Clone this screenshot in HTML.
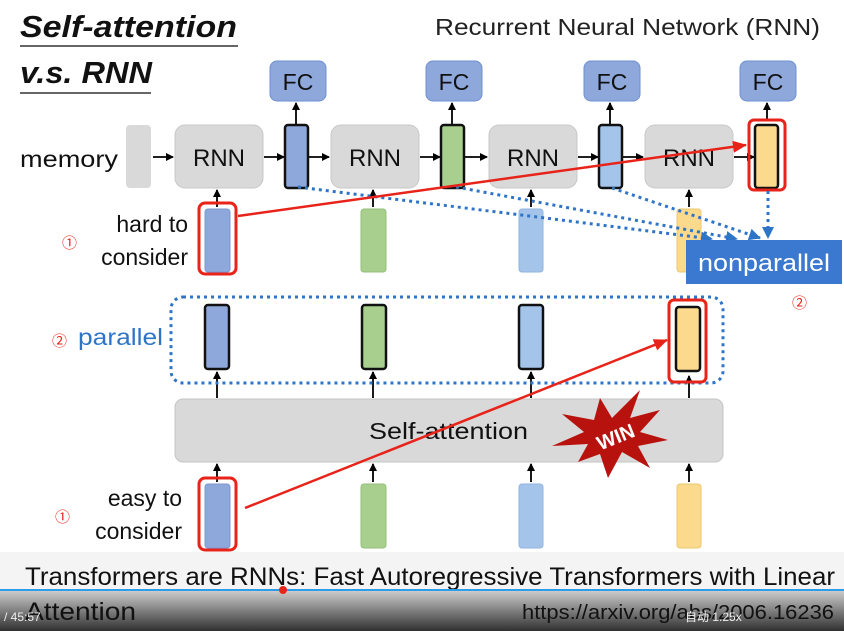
<!DOCTYPE html>
<html><head><meta charset="utf-8"><style>
body{margin:0;width:844px;height:631px;overflow:hidden;background:#fff;}
svg{display:block}
text{font-family:"Liberation Sans","Noto Sans CJK SC",sans-serif;}
</style></head><body>
<svg width="844" height="631" viewBox="0 0 844 631" xmlns="http://www.w3.org/2000/svg">
<defs>
<marker id="ab" markerWidth="8" markerHeight="8" refX="7" refY="4" orient="auto" markerUnits="userSpaceOnUse"><path d="M0,0 L8,4 L0,8 z" fill="#000"/></marker>
<marker id="ar" markerWidth="14" markerHeight="12" refX="13" refY="6" orient="auto" markerUnits="userSpaceOnUse"><path d="M0,0 L14,6 L0,12 z" fill="#e8231a"/></marker>
<marker id="ad" markerWidth="12" markerHeight="12" refX="11" refY="6" orient="auto" markerUnits="userSpaceOnUse"><path d="M0,0 L12,6 L0,12 z" fill="#2e75c8"/></marker>
<linearGradient id="bot" x1="0" y1="0" x2="0" y2="1"><stop offset="0" stop-color="#d0d0d0"/><stop offset="1" stop-color="#303030"/></linearGradient>
</defs>

<text x="20" y="37" font-size="31" font-weight="bold" font-style="italic" fill="#111" textLength="217" lengthAdjust="spacingAndGlyphs">Self-attention</text>
<line x1="20" y1="46" x2="238" y2="46" stroke="#333" stroke-width="1.5"/>
<text x="20" y="83" font-size="31" font-weight="bold" font-style="italic" fill="#111" textLength="132" lengthAdjust="spacingAndGlyphs">v.s. RNN</text>
<line x1="20" y1="93" x2="151" y2="93" stroke="#333" stroke-width="1.5"/>
<text x="435" y="35" font-size="23" fill="#222" textLength="385" lengthAdjust="spacingAndGlyphs">Recurrent Neural Network (RNN)</text>

<g fill="#8ea8dc" stroke="#6f8fcf" stroke-width="1">
<rect x="270" y="61" width="56" height="40" rx="7"/>
<rect x="426" y="61" width="56" height="40" rx="7"/>
<rect x="584" y="61" width="56" height="40" rx="7"/>
<rect x="740" y="61" width="56" height="40" rx="7"/>
</g>
<g font-size="23" fill="#111" text-anchor="middle">
<text x="298" y="90">FC</text><text x="454" y="90">FC</text><text x="612" y="90">FC</text><text x="768" y="90">FC</text>
</g>

<text x="20" y="167" font-size="23" fill="#111" textLength="98" lengthAdjust="spacingAndGlyphs">memory</text>
<rect x="126" y="125" width="25" height="63" rx="4" fill="#d9d9d9"/>

<g fill="#d9d9d9" stroke="#c8c8c8">
<rect x="175" y="125" width="88" height="63" rx="10"/>
<rect x="331" y="125" width="88" height="63" rx="10"/>
<rect x="489" y="125" width="88" height="63" rx="10"/>
<rect x="645" y="125" width="88" height="63" rx="10"/>
</g>
<g font-size="24" fill="#111" text-anchor="middle">
<text x="219" y="166">RNN</text><text x="375" y="166">RNN</text><text x="533" y="166">RNN</text><text x="689" y="166">RNN</text>
</g>

<g stroke="#000" stroke-width="1.8" marker-end="url(#ab)">
<line x1="153" y1="157" x2="173" y2="157"/>
<line x1="264" y1="157" x2="284" y2="157"/>
<line x1="308" y1="157" x2="329" y2="157"/>
<line x1="420" y1="157" x2="440" y2="157"/>
<line x1="465" y1="157" x2="487" y2="157"/>
<line x1="578" y1="157" x2="598" y2="157"/>
<line x1="622" y1="157" x2="643" y2="157"/>
<line x1="734" y1="157" x2="754" y2="157"/>
<line x1="296" y1="124" x2="296" y2="103"/>
<line x1="452" y1="124" x2="452" y2="103"/>
<line x1="610" y1="124" x2="610" y2="103"/>
<line x1="767" y1="120" x2="767" y2="103"/>
<line x1="217" y1="207" x2="217" y2="190"/>
<line x1="373" y1="207" x2="373" y2="190"/>
<line x1="531" y1="207" x2="531" y2="190"/>
<line x1="689" y1="207" x2="689" y2="190"/>
<line x1="217" y1="482" x2="217" y2="464"/>
<line x1="373" y1="482" x2="373" y2="464"/>
<line x1="531" y1="482" x2="531" y2="464"/>
<line x1="689" y1="482" x2="689" y2="464"/>
<line x1="217" y1="398" x2="217" y2="372"/>
<line x1="373" y1="398" x2="373" y2="372"/>
<line x1="531" y1="398" x2="531" y2="372"/>
<line x1="689" y1="398" x2="689" y2="376"/>
</g>

<rect x="285" y="125" width="23" height="63" rx="3" fill="#8ea8dc" stroke="#111" stroke-width="2.5"/>
<rect x="441" y="125" width="23" height="63" rx="3" fill="#a9cf8f" stroke="#111" stroke-width="2.5"/>
<rect x="599" y="125" width="23" height="63" rx="3" fill="#a5c4ea" stroke="#111" stroke-width="2.5"/>
<rect x="755" y="125" width="23" height="63" rx="3" fill="#fbd98d" stroke="#111" stroke-width="2.5"/>
<rect x="749" y="120" width="36" height="70" rx="5" fill="none" stroke="#e8231a" stroke-width="3"/>

<rect x="205" y="209" width="25" height="63" rx="3" fill="#8ea8dc" stroke="#7d97cf"/>
<rect x="199" y="203" width="37" height="71" rx="6" fill="none" stroke="#e8231a" stroke-width="3"/>
<rect x="361" y="209" width="25" height="63" rx="3" fill="#a9cf8f" stroke="#93bf79"/>
<rect x="519" y="209" width="24" height="63" rx="3" fill="#a5c4ea" stroke="#8fb3e0"/>
<rect x="677" y="209" width="24" height="63" rx="3" fill="#fbd98d" stroke="#eec770"/>

<text x="62" y="248" font-size="15" fill="#e8231a">①</text>
<text x="188" y="232" font-size="23" fill="#111" text-anchor="end">hard to</text>
<text x="188" y="265" font-size="23" fill="#111" text-anchor="end">consider</text>

<g stroke="#2e75c8" stroke-width="3" stroke-dasharray="3,4" fill="none" marker-end="url(#ad)">
<line x1="298" y1="187" x2="712" y2="239"/>
<line x1="456" y1="187" x2="737" y2="239"/>
<line x1="612" y1="188" x2="760" y2="238"/>
<line x1="768" y1="191" x2="768" y2="238"/>
</g>
<rect x="686" y="240" width="156" height="44" fill="#3b78d0"/>
<text x="698" y="271" font-size="24" fill="#fff" textLength="132" lengthAdjust="spacingAndGlyphs">nonparallel</text>
<text x="792" y="308" font-size="15" fill="#e8231a">②</text>

<text x="52" y="346" font-size="15" fill="#e8231a">②</text>
<text x="78" y="345" font-size="23" fill="#2e75c8" textLength="85" lengthAdjust="spacingAndGlyphs">parallel</text>
<rect x="171" y="297" width="552" height="86" rx="12" fill="none" stroke="#2e75c8" stroke-width="3" stroke-dasharray="3,4"/>
<rect x="205" y="305" width="24" height="64" rx="3" fill="#8ea8dc" stroke="#111" stroke-width="2.5"/>
<rect x="362" y="305" width="24" height="64" rx="3" fill="#a9cf8f" stroke="#111" stroke-width="2.5"/>
<rect x="519" y="305" width="24" height="64" rx="3" fill="#a5c4ea" stroke="#111" stroke-width="2.5"/>
<rect x="676" y="307" width="24" height="64" rx="3" fill="#fbd98d" stroke="#111" stroke-width="2.5"/>
<rect x="669" y="300" width="37" height="82" rx="5" fill="none" stroke="#e8231a" stroke-width="3"/>

<rect x="175" y="399" width="548" height="63" rx="8" fill="#d9d9d9" stroke="#c4c4c4"/>
<text x="369" y="439" font-size="23" fill="#111" textLength="159" lengthAdjust="spacingAndGlyphs">Self-attention</text>
<polygon points="600,398 612,418 640,390 630,418 660,410 640,432 668,440 638,446 650,468 622,452 608,478 600,454 578,462 588,444 552,446 584,432 562,414 594,420" fill="#b8120e"/>
<text x="598" y="451" font-size="20" font-weight="bold" fill="#fff" transform="rotate(-22 598 445)">WIN</text>

<rect x="205" y="484" width="25" height="64" rx="3" fill="#8ea8dc" stroke="#7d97cf"/>
<rect x="199" y="478" width="37" height="72" rx="6" fill="none" stroke="#e8231a" stroke-width="3"/>
<rect x="361" y="484" width="25" height="64" rx="3" fill="#a9cf8f" stroke="#93bf79"/>
<rect x="519" y="484" width="24" height="64" rx="3" fill="#a5c4ea" stroke="#8fb3e0"/>
<rect x="677" y="484" width="24" height="64" rx="3" fill="#fbd98d" stroke="#eec770"/>
<text x="55" y="522" font-size="15" fill="#e8231a">①</text>
<text x="182" y="506" font-size="23" fill="#111" text-anchor="end">easy to</text>
<text x="182" y="539" font-size="23" fill="#111" text-anchor="end">consider</text>

<line x1="238" y1="216" x2="746" y2="145" stroke="#e8231a" stroke-width="2.5" marker-end="url(#ar)"/>
<line x1="245" y1="508" x2="667" y2="340" stroke="#e8231a" stroke-width="2.5" marker-end="url(#ar)"/>

<rect x="0" y="552" width="844" height="38" fill="#f4f4f4"/>
<rect x="0" y="590" width="844" height="41" fill="url(#bot)"/>
<text x="25" y="585" font-size="25" fill="#111" textLength="810" lengthAdjust="spacingAndGlyphs">Transformers are RNNs: Fast Autoregressive Transformers with Linear</text>
<line x1="0" y1="590" x2="844" y2="590" stroke="#2a9ee8" stroke-width="2"/>
<circle cx="283" cy="590" r="4" fill="#e8231a"/>
<text x="25" y="620" font-size="25" fill="#111" textLength="111" lengthAdjust="spacingAndGlyphs">Attention</text>
<text x="522" y="619" font-size="20" fill="#111" textLength="312" lengthAdjust="spacingAndGlyphs">https://arxiv.org/abs/2006.16236</text>
<text x="4" y="621" font-size="12" fill="#eee">/ 45:57</text>
<text x="685" y="621" font-size="12" fill="#eee">自动   1.25x</text>
</svg>
</body></html>
